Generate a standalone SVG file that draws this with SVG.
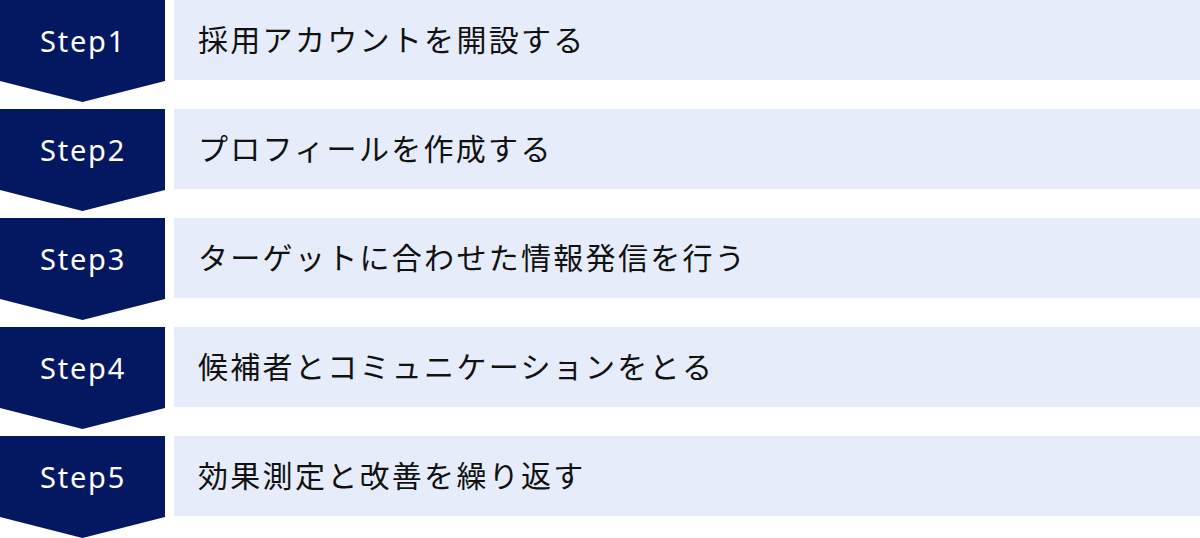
<svg xmlns="http://www.w3.org/2000/svg" width="1200" height="538" viewBox="0 0 1200 538">
<defs>
<style>
.badge{fill:#041862}
.panel{fill:#E6ECF9}
.step{font-family:"Noto Sans","Open Sans",sans-serif;font-size:29px;fill:#FFFFFF;text-anchor:middle;letter-spacing:1.8px}
.label{font-family:"Noto Sans CJK JP","Noto Sans",sans-serif;font-size:30px;fill:#111111;letter-spacing:2.3px}
</style>
<path id="chev" d="M0 0 H165 V81 L82.5 102 L0 81 Z"/>
</defs>
<rect width="1200" height="538" fill="#FFFFFF"/>
<g id="connectors"></g>
<g id="step1" transform="translate(0,0)">
<use href="#chev" class="badge"/>
<rect class="panel" x="174" y="0" width="1026" height="80"/>
<text class="step" x="83" y="52">Step1</text>
<text class="label" x="198" y="51">採用アカウントを開設する</text>
</g>
<g id="step2" transform="translate(0,109)">
<use href="#chev" class="badge"/>
<rect class="panel" x="174" y="0" width="1026" height="80"/>
<text class="step" x="83" y="52">Step2</text>
<text class="label" x="198" y="51">プロフィールを作成する</text>
</g>
<g id="step3" transform="translate(0,218)">
<use href="#chev" class="badge"/>
<rect class="panel" x="174" y="0" width="1026" height="80"/>
<text class="step" x="83" y="52">Step3</text>
<text class="label" x="198" y="51">ターゲットに合わせた情報発信を行う</text>
</g>
<g id="step4" transform="translate(0,327)">
<use href="#chev" class="badge"/>
<rect class="panel" x="174" y="0" width="1026" height="80"/>
<text class="step" x="83" y="52">Step4</text>
<text class="label" x="198" y="51">候補者とコミュニケーションをとる</text>
</g>
<g id="step5" transform="translate(0,436)">
<use href="#chev" class="badge"/>
<rect class="panel" x="174" y="0" width="1026" height="80"/>
<text class="step" x="83" y="52">Step5</text>
<text class="label" x="198" y="51">効果測定と改善を繰り返す</text>
</g>
</svg>
